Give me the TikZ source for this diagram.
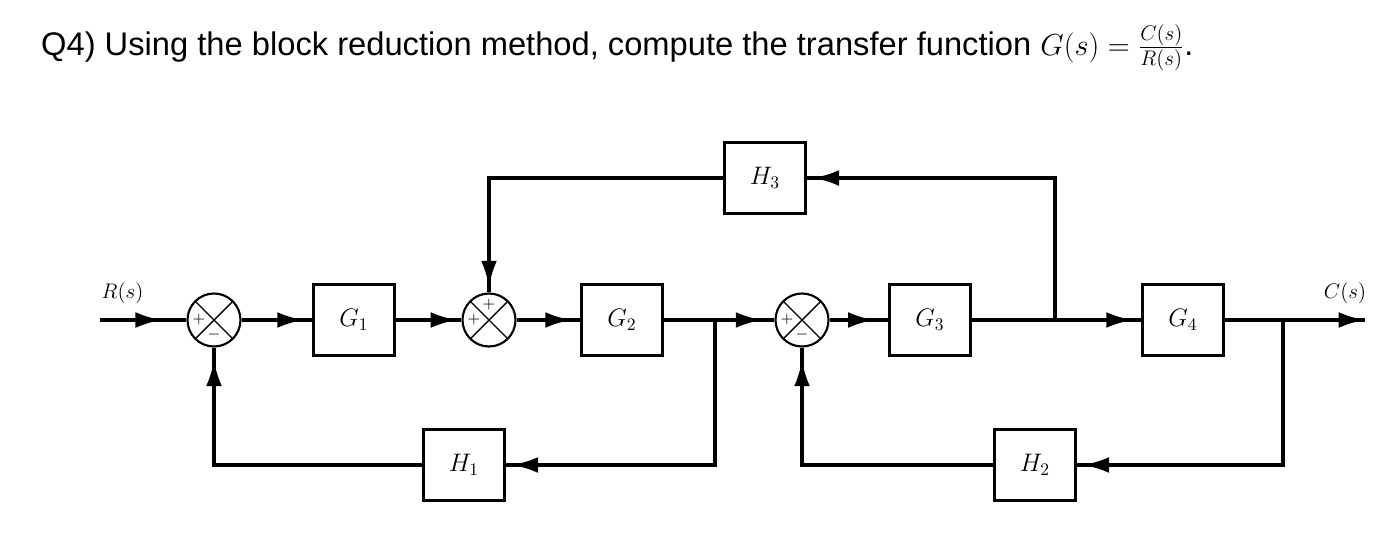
\documentclass[tikz,border=0pt]{standalone}
\usepackage{amsmath}
\usepackage{fontspec}
\setmainfont{Liberation Sans}
\usetikzlibrary{arrows.meta, positioning}
\tikzstyle{block} = [draw, line width=1.2pt, fill=white, rectangle, minimum width=1.62cm, minimum height=1.42cm, font=\Large]
\tikzstyle{sum} = [draw, line width=1.2pt, circle, minimum size=1.06cm, inner sep=0pt,
  path picture={\draw[line width=0.8pt] (path picture bounding box.north west) -- (path picture bounding box.south east)
                (path picture bounding box.north east) -- (path picture bounding box.south west);}]
\tikzstyle{sign} = [font=\small, inner sep=0pt]
\tikzset{wire/.style={line width=2pt},
  flow/.style={wire, postaction={draw, -{Latex[length=15pt,width=9pt]}, shorten >=#1}},
  flow/.default=3.5pt}

\begin{document}
\begin{tikzpicture}[>=latex]
    \useasboundingbox (0,0) rectangle (27.8,-10.76);
    \node[anchor=base west, font=\fontsize{18.6}{22}\selectfont] (title) at (0.7,-1.1)
        {Q4) Using the block reduction method, compute the transfer function $G(s)=\frac{C(s)}{R(s)}$.};
    % forward path
    \node[sum] (s1) at (4.28,-6.4) {};
    \node[block, right of=s1, node distance=2.8cm] (G1) {$G_1$};
    \node[sum, right of=G1, node distance=2.7cm] (s2) {};
    \node[block, right of=s2, node distance=2.66cm] (G2) {$G_2$};
    \node[sum, right of=G2, node distance=3.6cm] (s3) {};
    \node[block, right of=s3, node distance=2.56cm] (G3) {$G_3$};
    \node[block, right of=G3, node distance=5.06cm] (G4) {$G_4$};
    % feedback blocks
    \node[block] (H3) at (15.3,-3.56) {$H_3$};
    \node[block] (H1) at (9.28,-9.3) {$H_1$};
    \node[block] (H2) at (20.7,-9.3) {$H_2$};
    % signs
    \node[sign] (s1a) at ([xshift=-0.3cm]s1.center) {$+$};
    \node[sign] (s1b) at ([yshift=-0.3cm]s1.center) {$-$};
    \node[sign] (s2a) at ([xshift=-0.3cm]s2.center) {$+$};
    \node[sign] (s2b) at ([yshift=0.3cm]s2.center) {$+$};
    \node[sign] (s3a) at ([xshift=-0.3cm]s3.center) {$+$};
    \node[sign] (s3b) at ([yshift=-0.3cm]s3.center) {$-$};
    % input, output
    \coordinate (in) at (2.0,-6.4);
    \coordinate (out) at (27.3,-6.4);
    \node[font=\large] (R) at (2.45,-5.86) {$R(s)$};
    \node[font=\large] (C) at (26.9,-5.86) {$C(s)$};
    \coordinate (b1) at (14.3,-6.4);
    \coordinate (b2) at (21.1,-6.4);
    \coordinate (b3) at (25.66,-6.4);
    \draw[flow=14pt] (in) -- (s1);
    \draw[flow=5pt] (s1) -- (G1);
    \draw[flow=2.5pt] (G1) -- (s2);
    \draw[flow=5pt] (s2) -- (G2);
    \draw[flow=7pt] (G2) -- (s3);
    \draw[flow=8pt] (s3) -- (G3);
    \draw[flow=5pt] (G3) -- (G4);
    \draw[flow=0pt] (G4) -- (out);
    \draw[flow] (b1) |- (H1);
    \draw[flow=7pt] (H1) -| (s1);
    \draw[flow] (b2) |- (H3);
    \draw[flow=3pt] (H3) -| (s2);
    \draw[flow] (b3) |- (H2);
    \draw[flow=7pt] (H2) -| (s3);
\end{tikzpicture}
\end{document}
